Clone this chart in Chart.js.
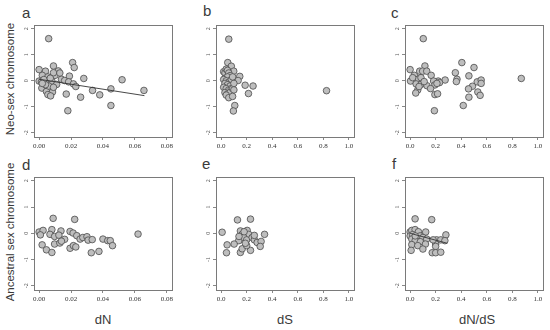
<!DOCTYPE html>
<html>
<head>
<meta charset="utf-8">
<script src="https://cdn.jsdelivr.net/npm/chart.js@4.4.0/dist/chart.umd.min.js"></script>
<style>
  body { margin: 0; background: #fff; }
  #wrap { position: relative; width: 550px; height: 330px; overflow: hidden; font-family: 'Liberation Sans', Arial, sans-serif; color: #3a3a3a; }
  .pane { position: absolute; }
  .letter { position: absolute; font-size: 15px; line-height: 1; }
  .xtitle { position: absolute; font-size: 13px; transform: translateX(-50%); }
  .ytitle { position: absolute; font-size: 11.5px; white-space: nowrap; transform: translate(-50%, -50%) rotate(-90deg); }
</style>
</head>
<body>
<div id="wrap">
  <div class="letter" style="left:22px; top:5px;">a</div>
  <div class="letter" style="left:203px; top:3px;">b</div>
  <div class="letter" style="left:391px; top:5px;">c</div>
  <div class="letter" style="left:22px; top:157px;">d</div>
  <div class="letter" style="left:202px; top:156px;">e</div>
  <div class="letter" style="left:392px; top:156px;">f</div>
  <div class="ytitle" style="left:10px; top:79px;">Neo-sex chromosome</div>
  <div class="ytitle" style="left:10px; top:232px;">Ancestral sex chromosome</div>
  <div class="xtitle" style="left:103px; top:312px;">dN</div>
  <div class="xtitle" style="left:285px; top:312px;">dS</div>
  <div class="xtitle" style="left:477px; top:312px;">dN/dS</div>
</div>
<script>
// --- Data ---
const yTicks = [-2, -1, 0, 1, 2];
const dnTicks = [0, 0.02, 0.04, 0.06, 0.08];
const ratioTicks = [0, 0.2, 0.4, 0.6, 0.8, 1.0];

// neo-sex chromosome
const neoDN = [[0.006,1.62],[0.000,0.43],[0.004,0.37],[0.009,0.57],[0.012,0.38],[0.021,0.70],[0.022,0.51],[0.002,0.21],[0.0055,0.15],[0.010,0.21],[0.009,0.31],[0.019,0.18],[0.028,0.09],[0.052,0.04],[0.000,-0.01],[0.0015,-0.04],[0.005,-0.06],[0.008,-0.01],[0.011,-0.14],[0.014,0.06],[0.016,0.01],[0.0185,-0.04],[0.0215,-0.12],[0.023,-0.22],[0.0017,-0.28],[0.0046,-0.41],[0.0084,-0.43],[0.0055,-0.53],[0.0072,-0.58],[0.017,-0.51],[0.026,-0.63],[0.0335,-0.37],[0.038,-0.54],[0.045,-0.31],[0.045,-0.95],[0.0657,-0.37],[0.018,-1.15],[0.003,0.05],[0.006,-0.2],[0.009,-0.25],[0.004,-0.15],[0.013,0.3],[0.002,-0.1],[0.007,0.1]];
const neoDNfit = [[0, 0.06], [0.066, -0.57]];

const neoDS = [[0.06,1.60],[0.052,0.70],[0.08,0.56],[0.099,0.37],[0.146,0.17],[0.133,0.01],[0.188,-0.17],[0.25,-0.20],[0.214,-0.49],[0.825,-0.38],[0.107,-0.95],[0.096,-1.16],[0.02,0.35],[0.03,0.3],[0.04,0.45],[0.05,0.4],[0.06,0.3],[0.07,0.2],[0.03,0.1],[0.05,0.15],[0.02,0.05],[0.04,0.0],[0.06,-0.05],[0.08,0.05],[0.03,-0.1],[0.05,-0.15],[0.07,-0.2],[0.02,-0.25],[0.04,-0.3],[0.06,-0.35],[0.08,-0.3],[0.03,-0.45],[0.05,-0.5],[0.07,-0.45],[0.04,-0.55],[0.06,-0.65],[0.09,-0.3],[0.1,-0.1],[0.09,0.15],[0.1,-0.35],[0.09,-0.6]];

const neoRatio = [[0.103,1.62],[0.405,0.70],[0.50,0.51],[0.0,0.43],[0.116,0.57],[0.075,0.37],[0.098,0.37],[0.13,0.37],[0.354,0.31],[0.033,0.21],[0.165,0.21],[0.46,0.19],[0.367,0.06],[0.362,-0.03],[0.274,0.03],[0.22,-0.01],[0.003,-0.01],[0.064,0.06],[0.184,-0.01],[0.525,-0.04],[0.556,0.03],[0.556,-0.1],[0.047,-0.12],[0.085,-0.14],[0.132,-0.19],[0.194,-0.16],[0.23,-0.07],[0.488,-0.21],[0.16,-0.30],[0.457,-0.31],[0.06,-0.35],[0.044,-0.47],[0.53,-0.43],[0.548,-0.56],[0.46,-0.63],[0.194,-0.53],[0.215,-0.5],[0.416,-0.95],[0.19,-1.15],[0.87,0.09],[0.02,0.12],[0.085,0.12],[0.11,-0.03],[0.21,-0.1],[0.07,-0.22]];

// ancestral sex chromosome
const ancDN = [[0.0088,0.57],[0.0223,0.53],[0.0,0.05],[0.0025,0.11],[0.008,0.14],[0.0137,0.09],[0.0194,0.07],[0.0008,-0.06],[0.0068,-0.04],[0.0097,-0.12],[0.0124,-0.07],[0.016,-0.23],[0.0213,0.01],[0.0236,-0.09],[0.0257,-0.22],[0.0274,-0.16],[0.030,-0.13],[0.0307,-0.26],[0.0333,-0.24],[0.040,-0.22],[0.043,-0.28],[0.0446,-0.28],[0.046,-0.47],[0.062,-0.03],[0.0019,-0.44],[0.0046,-0.63],[0.008,-0.73],[0.0097,-0.41],[0.013,-0.37],[0.014,-0.3],[0.0194,-0.57],[0.0215,-0.47],[0.023,-0.52],[0.0327,-0.74],[0.0375,-0.69]];

const ancDS = [[0.128,0.51],[0.23,0.54],[0.008,0.04],[0.34,-0.04],[0.151,0.09],[0.204,0.11],[0.165,-0.04],[0.216,-0.04],[0.138,-0.28],[0.177,-0.16],[0.2,-0.25],[0.243,-0.16],[0.26,-0.25],[0.282,-0.35],[0.313,-0.31],[0.306,-0.5],[0.102,-0.41],[0.047,-0.44],[0.042,-0.74],[0.151,-0.73],[0.165,-0.59],[0.23,-0.65],[0.2,-0.47],[0.19,-0.38],[0.26,-0.08],[0.18,0.06],[0.14,-0.12]];

const ancRatio = [[0.039,0.55],[0.169,0.52],[0.0,0.05],[0.013,0.11],[0.039,0.14],[0.065,0.06],[0.122,0.05],[0.0,-0.1],[0.02,-0.05],[0.078,-0.1],[0.1,-0.16],[0.13,-0.22],[0.013,-0.22],[0.04,-0.27],[0.08,-0.32],[0.207,-0.25],[0.24,-0.25],[0.28,-0.06],[0.272,-0.28],[0.2,-0.41],[0.12,-0.41],[0.013,-0.43],[0.06,-0.47],[0.008,-0.65],[0.1,-0.6],[0.2,-0.5],[0.173,-0.74],[0.2,-0.74],[0.24,-0.72],[0.04,-0.1],[0.18,-0.25]];
const ancRatioFit = [[0, 0.0], [0.29, -0.38]];

// --- Panels ---
const panels = [
  { pts: neoDN,    fit: neoDNfit,    ticks: dnTicks,    dec: 2, left: 34,  top: 21,  h: 116 },
  { pts: neoDS,    fit: null,        ticks: ratioTicks, dec: 1, left: 216, top: 21,  h: 116 },
  { pts: neoRatio, fit: null,        ticks: ratioTicks, dec: 1, left: 405, top: 21,  h: 116 },
  { pts: ancDN,    fit: null,        ticks: dnTicks,    dec: 2, left: 34,  top: 173, h: 117 },
  { pts: ancDS,    fit: null,        ticks: ratioTicks, dec: 1, left: 216, top: 173, h: 117 },
  { pts: ancRatio, fit: ancRatioFit, ticks: ratioTicks, dec: 1, left: 405, top: 173, h: 117 }
];

const AXW = 22, AXH = 18, PADT = 2, PADR = 3, BOXW = 138;

const boxPlugin = {
  id: 'box',
  afterDraw(chart) {
    const a = chart.chartArea, ctx = chart.ctx;
    ctx.save();
    ctx.strokeStyle = '#7a7a7a';
    ctx.lineWidth = 1;
    ctx.strokeRect(Math.round(a.left) + 0.5, Math.round(a.top) + 0.5, Math.round(a.right - a.left), Math.round(a.bottom - a.top));
    ctx.restore();
  }
};

const wrap = document.getElementById('wrap');
panels.forEach((p, i) => {
  const div = document.createElement('div');
  div.className = 'pane';
  const w = AXW + BOXW + PADR, h = PADT + p.h + AXH;
  div.style.cssText = `left:${p.left - AXW}px; top:${p.top - PADT}px; width:${w}px; height:${h}px;`;
  const cv = document.createElement('canvas');
  div.appendChild(cv);
  wrap.appendChild(div);

  const span = p.ticks[p.ticks.length - 1] - p.ticks[0];
  const datasets = [{
    type: 'scatter',
    data: p.pts.map(([x, y]) => ({ x, y })),
    backgroundColor: '#bebebe',
    borderColor: '#4a4a4a',
    borderWidth: 0.8,
    pointRadius: 3.3,
    order: 2
  }];
  if (p.fit) {
    datasets.push({
      type: 'line',
      data: p.fit.map(([x, y]) => ({ x, y })),
      borderColor: '#333',
      borderWidth: 0.9,
      pointRadius: 0,
      order: 1
    });
  }

  new Chart(cv, {
    data: { datasets },
    options: {
      responsive: true,
      maintainAspectRatio: false,
      animation: false,
      events: [],
      layout: { autoPadding: false, padding: { top: PADT, right: PADR, left: 0, bottom: 0 } },
      plugins: { legend: { display: false }, tooltip: { enabled: false } },
      scales: {
        x: {
          type: 'linear',
          min: p.ticks[0] - span * 0.04,
          max: p.ticks[p.ticks.length - 1] + span * 0.04,
          afterBuildTicks: s => { s.ticks = p.ticks.map(v => ({ value: v })); },
          afterFit: s => { s.height = AXH; },
          border: { display: false },
          grid: { drawOnChartArea: false, drawTicks: true, tickLength: 3, color: '#888' },
          ticks: {
            maxRotation: 0, minRotation: 0, padding: 2, autoSkip: false,
            font: { family: "'Liberation Serif', 'DejaVu Serif', serif", size: 7 },
            color: '#333',
            callback: v => Number(v).toFixed(p.dec)
          }
        },
        y: {
          type: 'linear',
          min: -2.16, max: 2.16,
          afterBuildTicks: s => { s.ticks = yTicks.map(v => ({ value: v })); },
          afterFit: s => { s.width = AXW; },
          border: { display: false },
          grid: { drawOnChartArea: false, drawTicks: true, tickLength: 3, color: '#888' },
          ticks: {
            minRotation: 90, maxRotation: 90, crossAlign: 'center', padding: 2, autoSkip: false,
            font: { family: "'Liberation Serif', 'DejaVu Serif', serif", size: 6 },
            color: '#555',
            callback: v => String(v)
          }
        }
      }
    },
    plugins: [boxPlugin]
  });
});
</script>
</body>
</html>
